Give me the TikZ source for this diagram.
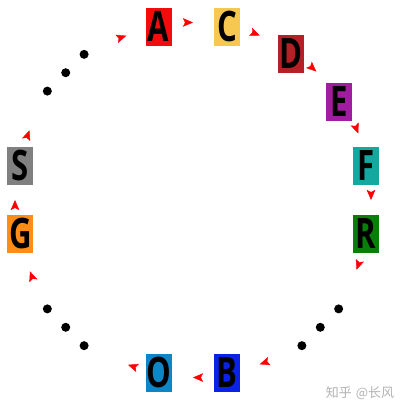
\documentclass[tikz,border=0pt]{standalone}
\usepackage{fontspec}
\newfontfamily\letterfont[FakeStretch=0.74]{Open Sans}
\newfontfamily\cjkfont{Noto Sans CJK SC}
\usetikzlibrary{arrows.meta,decorations.markings}
\definecolor{colA}{HTML}{F20C0C}
\definecolor{colC}{HTML}{F7C850}
\definecolor{colD}{HTML}{B52026}
\definecolor{colE}{HTML}{A01CA0}
\definecolor{colF}{HTML}{14A8A0}
\definecolor{colR}{HTML}{0A7E0A}
\definecolor{colB}{HTML}{0A22E6}
\definecolor{colO}{HTML}{0C86C6}
\definecolor{colG}{HTML}{FF8C14}
\definecolor{colS}{HTML}{808080}
\newcommand*\ringrad{176pt}
\newcommand*\gaprad {180pt}
\newcommand*\dotstep{26pt}
\tikzset{
    letterbox/.style = {minimum width=26pt, minimum height=38pt,
                        inner sep=0pt, outer sep=0pt,
                        text height=29pt, text depth=0pt,
                        font=\letterfont\bfseries\fontsize{42}{42}\selectfont},
    flow/.style      = {postaction={decorate},
                        decoration={markings,
                          mark=at position #1 with {\arrow[red]{Stealth[length=10pt,width=8.5pt,inset=2pt]}}}},
    flow/.default    = 0.5,
    gapdot/.style    = {fill=black},
  }
\begin{document}
\begin{tikzpicture}
        % fix the frame of the picture
        \useasboundingbox (-193pt,-213pt) rectangle (216pt,200pt);

        % letter boxes round the ring
        \foreach \name/\ang in {A/101.25,C/78.75,D/56.25,E/33.75,F/11.25,
                                R/-11.25,B/-78.75,O/-101.25,G/191.25,S/168.75} {
            \node[letterbox, fill=col\name] (\name) at (\ang:\ringrad) {\name};
        }

        % gaps: three dots across each
        \foreach \gname/\ang in {NW/135,SW/225,SE/315} {
            \coordinate (\gname) at (\ang:\gaprad);
            \foreach \k in {-1,0,1}
                \fill[gapdot] (\gname) ++(\ang-90:\k*\dotstep) circle (4.5pt);
        }

        % arrows, clockwise
        \path[flow]     (A)  to[bend left=11] (C);
        \path[flow]     (C)  to[bend left=11] (D);
        \path[flow]     (D)  to[bend left=11] (E);
        \path[flow]     (E)  to[bend left=11] (F);
        \path[flow]     (F)  to[bend left=11] (R);
        \path[flow=.2]  (R)  to[bend left=14] (SE);
        \path[flow=.78] (SE) to[bend left=14] (B);
        \path[flow]     (B)  to[bend left=11] (O);
        \path[flow=.2]  (O)  to[bend left=14] (SW);
        \path[flow=.78] (SW) to[bend left=14] (G);
        \path[flow]     (G)  to[bend left=11] (S);
        \path[flow=.2]  (S)  to[bend left=14] (NW);
        \path[flow=.78] (NW) to[bend left=14] (A);

        % watermark
        \node[text=black!30, font=\cjkfont\fontsize{13}{13}\selectfont] (mark) at (167pt,-193pt) {知乎\hspace{4pt}@长风};
    \end{tikzpicture}
\end{document}
